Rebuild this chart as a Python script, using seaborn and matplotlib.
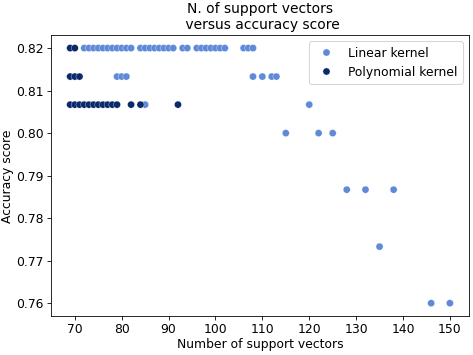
import pandas as pd
import matplotlib
matplotlib.use("Agg")
import matplotlib.pyplot as plt
import seaborn as sns

# linear kernel: number of support vectors and accuracy
lin_nsv = ([72, 73, 74, 75, 76, 77, 78, 79, 80, 81, 82,
            84, 85, 86, 87, 88, 89, 90, 91, 93, 94,
            96, 97, 98, 99, 100, 101, 102, 106, 107, 108]
           + [79, 80, 81, 108, 110, 112, 113]
           + [85, 120]
           + [115, 122, 125]
           + [128, 132, 138]
           + [135]
           + [146, 150])
lin_acc = ([0.82] * 31
           + [0.8133] * 7
           + [0.8067] * 2
           + [0.80] * 3
           + [0.7867] * 3
           + [0.7733]
           + [0.76] * 2)

# polynomial kernel
poly_nsv = ([69, 70]
            + [69, 70, 71]
            + [69, 70, 71, 72, 73, 74, 75, 76, 77, 78, 79, 82, 84, 92])
poly_acc = [0.82] * 2 + [0.8133] * 3 + [0.8067] * 14

kernels = ["Linear kernel", "Polynomial kernel"]
colors = ["#5e8ad8", "#0b2a6a"]


def main():
    df = pd.DataFrame({
        "nsv": lin_nsv + poly_nsv,
        "acc": lin_acc + poly_acc,
        "kernel": [kernels[0]] * len(lin_nsv) + [kernels[1]] * len(poly_nsv),
    })

    plt.rcParams["font.size"] = 12
    fig, ax = plt.subplots(figsize=(6.4, 4.8), dpi=74)
    sns.scatterplot(data=df, x="nsv", y="acc", hue="kernel",
                    hue_order=kernels, palette=colors, ax=ax,
                    s=48, linewidth=0.3)
    ax.set_title("N. of support vectors\n versus accuracy score", fontsize=13.5)
    ax.set_xlabel("Number of support vectors", labelpad=2)
    ax.set_ylabel("Accuracy score", labelpad=2)
    ax.legend(title=None, loc="upper right")
    fig.subplots_adjust(left=0.108, right=0.99, top=0.9, bottom=0.11)
    fig.savefig("out.png", dpi=74)


if __name__ == "__main__":
    main()
